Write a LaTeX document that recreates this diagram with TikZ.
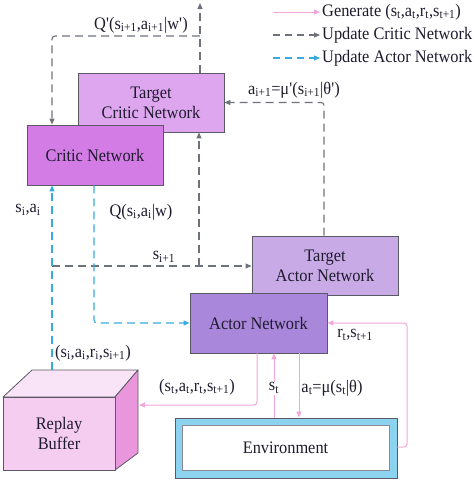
\documentclass[tikz,border=0pt]{standalone}
\usepackage{fontspec}
\setmainfont{Liberation Serif}
\newfontfamily\tmsfont[FakeStretch=0.93]{Liberation Serif}
\usetikzlibrary{arrows.meta,shadows}
\newcommand\sbs[1]{\textsubscript{#1}}
\newcommand\prm{\textquotesingle}
\definecolor{criticc}{HTML}{D47CE6}
\definecolor{tcriticc}{HTML}{DEA6EE}
\definecolor{tactorc}{HTML}{C8AAE6}
\definecolor{actorc}{HTML}{A987DB}
\definecolor{pinkc}{HTML}{F3A6D9}
\definecolor{greyc}{HTML}{6E737B}
\definecolor{bluec}{HTML}{38ACE0}
\definecolor{rbfrontc}{HTML}{F4CDF1}
\definecolor{rbtopc}{HTML}{F9E3F7}
\definecolor{rbsidec}{HTML}{E996DC}
\definecolor{envc}{HTML}{8CD3EF}
\definecolor{edgec}{HTML}{5A5A66}
\definecolor{textc}{HTML}{1E1B2E}
\begin{document}
\begin{tikzpicture}[x=1pt,y=-1pt,
  font=\tmsfont\fontsize{17.6}{20}\selectfont, text=textc,
  netbox/.style={draw=edgec, line width=0.8pt, align=center, inner sep=0pt,
    drop shadow={shadow xshift=1pt,shadow yshift=-1pt,opacity=0.35}},
  tipend/.style={-{Triangle[length=6pt,width=5pt]}},
  genline/.style={pinkc, line width=1pt, rounded corners=3pt, tipend},
  critline/.style={greyc, line width=1.1pt, dash pattern=on 8pt off 5pt, rounded corners=3pt, tipend},
  actline/.style={bluec, line width=1.1pt, dash pattern=on 8pt off 5pt, rounded corners=3pt, tipend},
  lbl/.style={inner sep=1pt}
]
\useasboundingbox (0,0) rectangle (474,480);

% ---------- boxes ----------
\node[netbox, fill=tcriticc, minimum width=146pt, minimum height=59pt] (tc) at (151,102.5) {Target\\Critic Network};
\node[netbox, fill=criticc, minimum width=136pt, minimum height=60pt] (c) at (95,155) {Critic Network};
\node[netbox, fill=tactorc, minimum width=146pt, minimum height=59pt] (ta) at (325,265.5) {Target\\Actor Network};
\node[netbox, fill=actorc, minimum width=137pt, minimum height=60pt] (a) at (258.5,323) {Actor Network};

% environment
\node[draw=edgec, line width=0.8pt, fill=envc, minimum width=222pt, minimum height=60pt, inner sep=0pt,
  drop shadow={shadow xshift=1pt,shadow yshift=-1pt,opacity=0.35}] (env) at (286,448) {};
\node[draw=edgec!70, line width=0.6pt, fill=white, minimum width=207pt, minimum height=45pt, inner sep=0pt] (envin) at (285.5,447.5) {Environment};

% replay buffer (3D box)
\coordinate (rbA) at (3,397);
\coordinate (rbB) at (115,397);
\coordinate (rbC) at (115,470);
\coordinate (rbD) at (3,470);
\coordinate (rbE) at (32,370);
\coordinate (rbF) at (138,370);
\coordinate (rbG) at (138,453);
\filldraw[fill=rbtopc, draw=edgec, line width=0.8pt, line join=round] (rbA) -- (rbE) -- (rbF) -- (rbB) -- cycle;
\filldraw[fill=rbsidec, draw=edgec, line width=0.8pt, line join=round] (rbB) -- (rbF) -- (rbG) -- (rbC) -- cycle;
\node[draw=edgec, line width=0.8pt, fill=rbfrontc, minimum width=112pt, minimum height=73pt, inner sep=0pt, align=center] (rb) at (59,433.5) {Replay\\Buffer};

% ---------- helper coordinates ----------
\coordinate (topend) at (200,3);
\coordinate (qj) at (200,36);
\coordinate (qc) at (52,36);
\coordinate (aj) at (324,103);
\coordinate (sj) at (52,266);
\coordinate (sk) at (199,266);
\coordinate (rbtop) at (52,370);
\coordinate (bl) at (94,323);
\coordinate (rbside) at (139,405);
\coordinate (pj) at (257,405);
\coordinate (rj) at (407,323);
\coordinate (rk) at (407,447);

% ---------- update critic (grey dashed) ----------
\draw[critline] (tc.north -| qj) -- (topend);
\draw[critline] (qj) -- (qc) -- (qc |- c.north);
\draw[critline] (ta.north -| aj) |- (tc.east);
\draw[critline] (sj) -- (sj -| ta.west);
\draw[critline] (sk) -- (sk |- tc.south);

% ---------- update actor (blue dashed) ----------
\draw[actline] (rbtop) -- (rbtop |- c.south);
\draw[actline] (c.south -| bl) -- (bl) -- (a.west);

% ---------- generate (pink) ----------
\draw[genline] (env.east |- rk) -- (rk) -- (rj) -- (a.east);
\draw[genline] (env.north -| 274,0) -- (a.south -| 274,0);
\draw[genline] (a.south -| 299,0) -- (env.north -| 299,0);
\draw[genline] (a.south -| pj) -- (pj) -- (rbside);

% ---------- labels ----------
\node[lbl] (lq1) at (141,25) {Q\prm(s\sbs{i+1},a\sbs{i+1}|w\prm)};
\node[lbl] (la1) at (294,90) {a\sbs{i+1}=μ\prm(s\sbs{i+1}|θ\prm)};
\node[lbl] (lsa) at (28,210) {s\sbs{i},a\sbs{i}};
\node[lbl] (lq) at (141,212) {Q(s\sbs{i},a\sbs{i}|w)};
\node[lbl] (ls1) at (164,257) {s\sbs{i+1}};
\node[lbl] (lrb) at (93,353) {(s\sbs{i},a\sbs{i},r\sbs{i},s\sbs{i+1})};
\node[lbl] (lgen) at (197,387) {(s\sbs{t},a\sbs{t},r\sbs{t},s\sbs{t+1})};
\node[lbl, fill=white] (lst) at (274,388) {s\sbs{t}};
\node[lbl] (lat) at (332,388) {a\sbs{t}=μ(s\sbs{t}|θ)};
\node[lbl] (lrs) at (355,335) {r\sbs{t},s\sbs{t+1}};

% ---------- legend ----------
\coordinate (g1a) at (273,12); \coordinate (g1b) at (320,12);
\coordinate (g2a) at (273,35); \coordinate (g2b) at (320,35);
\coordinate (g3a) at (273,58); \coordinate (g3b) at (320,58);
\draw[genline] (g1a) -- (g1b);
\draw[critline, dash pattern=on 7pt off 5pt] (g2a) -- (g2b);
\draw[actline, dash pattern=on 7pt off 5pt] (g3a) -- (g3b);
\node[lbl, anchor=west] (lg1) at (321,12) {Generate (s\sbs{t},a\sbs{t},r\sbs{t},s\sbs{t+1})};
\node[lbl, anchor=west] (lg2) at (321,35) {Update Critic Network};
\node[lbl, anchor=west] (lg3) at (321,58) {Update Actor Network};
\end{tikzpicture}
\end{document}
